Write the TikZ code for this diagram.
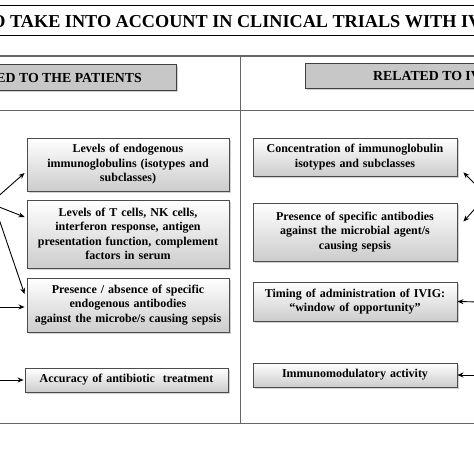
\documentclass[tikz,border=0pt]{standalone}
\usepackage{fontspec}
\setmainfont{Liberation Serif}
\usetikzlibrary{shadows,arrows.meta}
\begin{document}
\begin{tikzpicture}[x=1pt,y=-1pt,
  box/.style={draw=black!70, line width=0.9pt, top color=white, bottom color=black!20,
    drop shadow={opacity=0.35, shadow xshift=1.5pt, shadow yshift=-1.5pt},
    font=\bfseries\fontsize{12}{14.5}\selectfont, align=center, inner sep=1pt},
  headbox/.style={draw=black!75, line width=0.9pt, fill=black!22,
    drop shadow={opacity=0.35, shadow xshift=1.5pt, shadow yshift=-1.5pt}},
  arr/.style={-{Stealth[length=6pt,width=5pt]}, line width=0.9pt, black},
  panel/.style={draw=black!60, line width=1pt}
]
\useasboundingbox (0,0) rectangle (474,474);
\clip (0,0) rectangle (474,474);
\fill[white] (0,0) rectangle (474,474);
% title
\node[draw=black, line width=1.6pt, minimum width=500pt, minimum height=30pt, anchor=north west] (titlebox) at (-13,4.5) {};
\node[anchor=base west, inner sep=0pt, font=\bfseries\fontsize{18.2}{21}\selectfont] (title) at (10,27) {\llap{TO }TAKE INTO ACCOUNT IN CLINICAL TRIALS WITH IVIG};
% panel lines
\draw[panel, line width=1.6pt] (-5,56) -- (480,56);
\draw[panel] (-5,110) -- (480,110);
\draw[panel] (-5,423) -- (480,423);
\draw[panel] (240,56) -- (240,423);
% headers
\node[headbox, minimum width=236pt, minimum height=26pt] (hl) at (58,77) {};
\node[anchor=base east, inner sep=0pt, font=\bfseries\fontsize{13.8}{16}\selectfont] (hlt) at (142,82) {RELATED TO THE PATIENTS};
\node[headbox, minimum width=230pt, minimum height=25pt] (hr) at (420,75.5) {};
\node[anchor=base west, inner sep=0pt, font=\bfseries\fontsize{13.8}{16}\selectfont] (hrt) at (373,80.5) {RELATED TO IVIG};
% left boxes
\node[box, minimum width=202pt, minimum height=53pt, text width=196pt] (L1) at (128,164.5) {Levels of endogenous\\immunoglobulins (isotypes and\\subclasses)};
\node[box, minimum width=202pt, minimum height=68pt, text width=196pt] (L2) at (128,234) {Levels of T cells, NK cells,\\interferon response, antigen\\presentation function, complement\\factors in serum};
\node[box, minimum width=202pt, minimum height=54pt, text width=196pt] (L3) at (128,305) {Presence / absence of specific\\endogenous antibodies\\against the microbe/s causing sepsis};
\node[box, minimum width=203pt, minimum height=24pt, text width=197pt] (L4) at (126.5,380) {Accuracy of antibiotic\ \ treatment};
% right boxes
\node[box, minimum width=204pt, minimum height=38pt, text width=198pt] (R1) at (355,157) {Concentration of immunoglobulin\\isotypes and subclasses};
\node[box, minimum width=204pt, minimum height=58pt, text width=198pt] (R2) at (355,232) {Presence of specific antibodies\\against the microbial agent/s\\causing sepsis};
\node[box, minimum width=204pt, minimum height=39pt, text width=198pt] (R3) at (355,301.5) {Timing of administration of IVIG:\\``window of opportunity''};
\node[box, minimum width=204pt, minimum height=24pt, text width=198pt] (R4) at (355,375) {Immunomodulatory activity};
% arrow sources (outside the visible area)
\coordinate (s1) at (-6,200);
\coordinate (s2) at (-6,205);
\coordinate (s3) at (-1,219);
\coordinate (s4) at (-6,307);
\coordinate (s5) at (-6,380);
\coordinate (s6) at (481,190);
\coordinate (s7) at (481,202);
\coordinate (s8) at (481,302);
\coordinate (s9) at (481,375);
% arrows
\draw[arr] (s1) -- ([xshift=-2pt,yshift=-8.5pt]L1.west);
\draw[arr] (s2) -- ([xshift=-2pt,yshift=17pt]L2.west);
\draw[arr] (s3) -- ([xshift=-2pt,yshift=11pt]L3.west);
\draw[arr] (s4) -- ([xshift=-2pt,yshift=-2pt]L3.west);
\draw[arr] (s5) -- ([xshift=-1pt]L4.west);
\draw[arr] (s6) -- ([xshift=6pt,yshift=4pt]R1.south east);
\draw[arr] (s7) -- ([xshift=6pt,yshift=-19pt]R2.north east);
\draw[arr] (s8) -- (R3.east);
\draw[arr] (s9) -- (R4.east);
\end{tikzpicture}
\end{document}
